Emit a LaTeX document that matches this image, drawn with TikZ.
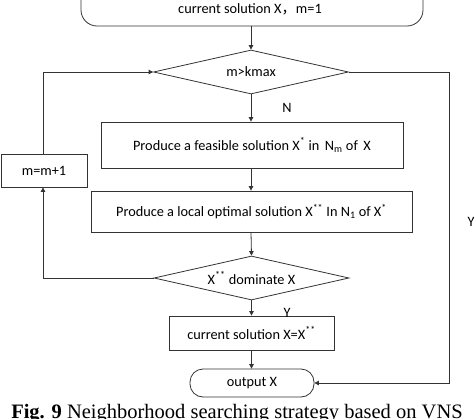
\documentclass[tikz,border=0pt]{standalone}
\usepackage{fontspec}
\setmainfont{Carlito}
\newfontfamily\capfont{Liberation Serif}
\newfontfamily\cjk{Noto Sans CJK SC}
\usetikzlibrary{shapes.geometric,arrows.meta}
\begin{document}
\begin{tikzpicture}[x=1pt,y=-1pt,
  line width=0.8pt,
  every node/.style={font=\fontsize{14.3}{16}\selectfont},
  proc/.style={draw=black!80, line width=0.8pt, rectangle, inner sep=0pt},
  decide/.style={draw=black!80, line width=0.8pt, diamond, aspect=4.4, inner sep=0pt},
  term/.style={draw=black!80, line width=0.8pt, rectangle, rounded corners=13pt, inner sep=0pt},
  flow/.style={draw=black!80, line width=0.8pt, -{Triangle[length=4.5pt,width=4.5pt]}},
  lbl/.style={inner sep=0pt}]
\useasboundingbox (0,0) rectangle (474,418);
\node[term, rounded corners=16pt, minimum width=342pt, minimum height=56pt] (start) at (252,-2) {};
\node[lbl] (starttext) at (250,9) {current solution X{\cjk ，}m=1};
\node[decide, minimum width=195pt, minimum height=44pt] (d1) at (251,72) {m>kmax};
\node[proc, minimum width=302pt, minimum height=46pt] (b1) at (252,145) {Produce a feasible solution X\textsuperscript{*} in\, N\textsubscript{m} of\, X};
\node[proc, minimum width=321pt, minimum height=41pt] (b2) at (251.5,211.5) {Produce a local optimal solution X\textsuperscript{**} In N\textsubscript{1} of X\textsuperscript{*}};
\node[decide, minimum width=195pt, minimum height=44pt] (d2) at (251.5,278) {X\textsuperscript{**} dominate X};
\node[proc, minimum width=165pt, minimum height=34pt] (b3) at (251.5,333) {current solution X=X\textsuperscript{**}};
\node[term, minimum width=124pt, minimum height=28pt] (out) at (252,383) {output X};
\node[proc, minimum width=86pt, minimum height=33pt] (mm) at (44,170.5) {m=m+1};
\node[lbl] (n) at (287,108) {N};
\node[lbl] (y1) at (287,313) {Y};
\node[lbl] (y2) at (471,222) {Y};
\coordinate (r1) at (449,72);
\coordinate (r2) at (449,383);
\coordinate (l1) at (43,278);
\coordinate (l2) at (43,72);
\draw[flow] (start.south -| d1.north) -- (d1.north);
\draw[flow] (d1.south) -- (b1.north -| d1.south);
\draw[flow] (b1.south -| d1.south) -- (b2.north -| d1.south);
\draw[flow] (b2.south -| d1.south) -- (d2.north);
\draw[flow] (d2.south) -- (b3.north -| d2.south);
\draw[flow] (b3.south -| d2.south) -- (out.north -| d2.south);
\draw[flow] (d2.west) -- (l1) -- (mm.south -| l1);
\draw[flow] (mm.north -| l2) -- (l2) -- (d1.west);
\draw[flow] (d1.east) -- (r1) -- (r2) -- (out.east);
\node[lbl, anchor=base, font=\capfont\fontsize{20.5}{22}\selectfont] (cap) at (237,418.5) {\textbf{Fig. 9} Neighborhood searching strategy based on VNS};
\end{tikzpicture}
\end{document}
